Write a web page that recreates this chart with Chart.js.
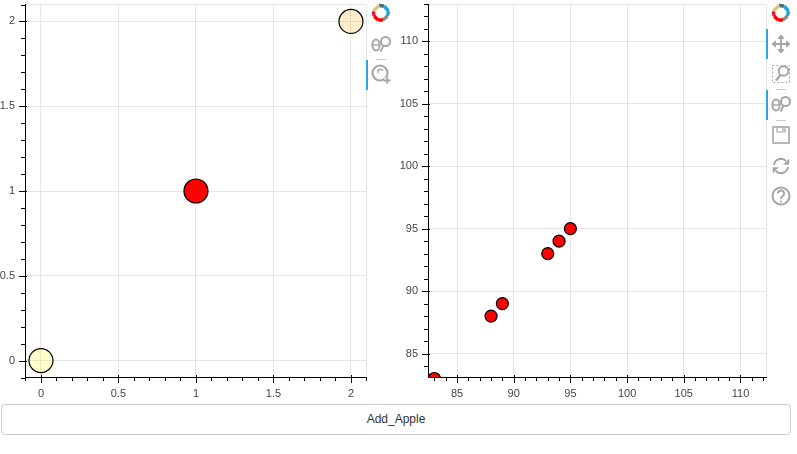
<!DOCTYPE html>
<html>
<head>
<meta charset="utf-8">
<script src="https://cdn.jsdelivr.net/npm/chart.js@4"></script>
<style>
  html, body { margin: 0; padding: 0; background: #fff; }
  body { width: 797px; height: 454px; position: relative; overflow: hidden; font-family: "Liberation Sans", Arial, sans-serif; }
  canvas { position: absolute; top: 0; }
  #leftChart { left: 0; }
  #rightChart { left: 400px; }
  .tools { position: absolute; top: 0; left: 0; }
  button {
    position: absolute; left: 1px; top: 404px; width: 790px; height: 31px;
    background: #fff; border: 1px solid #ccc; border-radius: 4px; color: #333;
    font: 12px "Liberation Sans", Arial, sans-serif; padding: 0 0 2px;
  }
</style>
</head>
<body>
<canvas id="leftChart" width="372" height="400"></canvas>
<canvas id="rightChart" width="372" height="400"></canvas>

<svg class="tools" width="797" height="404" fill="none" stroke="#a6a6a6">
  <defs>
    <g id="logo" stroke-width="3.4">
      <path d="M-2 -7.5L3 -7" stroke="#4a6a72"/>
      <path d="M3 -7L7.5 -2" stroke="#2aa3d6"/>
      <path d="M7.5 -2L6.5 3" stroke="#2aa3d6"/>
      <path d="M6.5 3L2 7" stroke="#8a8a8a"/>
      <path d="M2 7L-3 7" stroke="#f00"/>
      <path d="M-3 7L-7 3" stroke="#f00"/>
      <path d="M-7 3L-7.5 -2" stroke="#e02020"/>
      <path d="M-7.5 -2L-2 -7.5" stroke="#e3c07a"/>
    </g>
    <g id="hover" stroke-width="2">
      <ellipse cx="-5" cy="1" rx="3.6" ry="5.5"/>
      <path d="M-8 1H-2" stroke-width="1.5"/>
      <circle cx="4.5" cy="-2.5" r="4.5"/>
      <path d="M2.5 1.5L-0.5 7.5"/>
    </g>
    <g id="cross" stroke-width="2.2">
      <circle cx="-1" cy="-1" r="7.5"/>
      <path d="M-3 -1A2.5 2.5 0 0 1 2 -3" stroke-width="1.4"/>
      <path d="M3 6.5H9.5M6.2 3.2V9.8" stroke-width="4" stroke="#fff"/>
      <path d="M3 6.5H9.5M6.2 3.2V9.8" stroke-width="2"/>
    </g>
    <g id="pan" stroke-width="2">
      <path d="M-7 0H7M0 -7V7"/>
      <path d="M0 -9L-3 -5.5H3ZM0 9L-3 5.5H3ZM-9 0L-5.5 -3V3ZM9 0L5.5 -3V3Z" fill="#a6a6a6" stroke-width="1"/>
    </g>
    <g id="boxzoom">
      <rect x="-8.5" y="-8.5" width="17" height="17" stroke-dasharray="2 2" stroke-width="1"/>
      <circle cx="2.5" cy="-3" r="4.8" stroke-width="2"/>
      <path d="M-0.5 1L-5 6.5" stroke-width="2.4"/>
    </g>
    <g id="save" stroke-width="1.6">
      <rect x="-8" y="-8" width="16" height="16"/>
      <path d="M-4 -8V-3H4V-8" stroke-width="1.2"/>
      <path d="M2 -7V-4" stroke-width="1.2"/>
    </g>
    <g id="reset" stroke-width="2">
      <path d="M-7 -1A7 7 0 0 1 5 -5"/>
      <path d="M7 1A7 7 0 0 1 -5 5"/>
      <path d="M8 -7V-1.5H2.5Z" fill="#a6a6a6" stroke-width="0.5"/>
      <path d="M-8 7V1.5H-2.5Z" fill="#a6a6a6" stroke-width="0.5"/>
    </g>
    <g id="help">
      <circle r="8.5" stroke-width="2"/>
      <path d="M-3 -2.5A3 3 0 1 1 1.5 0C0.5 0.7 0 1.2 0 3" stroke-width="2"/>
      <circle cy="5.5" r="1.1" fill="#a6a6a6" stroke="none"/>
    </g>
  </defs>
  <!-- left toolbar -->
  <use href="#logo" x="381" y="13"/>
  <use href="#hover" x="381" y="44"/>
  <path d="M376 59.5H386" stroke="#ccc"/>
  <use href="#cross" x="381" y="74"/>
  <rect x="366" y="60" width="2" height="30" fill="#26aae1" stroke="none"/>
  <!-- right toolbar -->
  <use href="#logo" x="781" y="13"/>
  <use href="#pan" x="781" y="44"/>
  <use href="#boxzoom" x="781" y="74"/>
  <path d="M776 89.5H786" stroke="#ccc"/>
  <use href="#hover" x="781" y="104"/>
  <path d="M776 120.5H786" stroke="#ccc"/>
  <use href="#save" x="781" y="135"/>
  <use href="#reset" x="781" y="166"/>
  <use href="#help" x="781" y="196"/>
  <rect x="766" y="29" width="2" height="30" fill="#26aae1" stroke="none"/>
  <rect x="766" y="90" width="2" height="30" fill="#26aae1" stroke="none"/>
</svg>

<button>Add_Apple</button>

<script>
const leftX = [0, 1, 2];
const leftY = [0, 1, 2];
const rightX = [83, 88, 89, 93, 94, 95];
const rightY = [83, 88, 89, 93, 94, 95];

const leftMajor = [0, 0.5, 1, 1.5, 2];
const leftMinor = [-0.1, 0.1, 0.2, 0.3, 0.4, 0.6, 0.7, 0.8, 0.9, 1.1, 1.2, 1.3, 1.4, 1.6, 1.7, 1.8, 1.9, 2.1];
const rightMajor = [85, 90, 95, 100, 105, 110];
const rightMinorX = [83, 84, 86, 87, 88, 89, 91, 92, 93, 94, 96, 97, 98, 99, 101, 102, 103, 104, 106, 107, 108, 109, 111, 112];
const rightMinorY = [84, 86, 87, 88, 89, 91, 92, 93, 94, 96, 97, 98, 99, 101, 102, 103, 104, 106, 107, 108, 109, 111, 112, 113];

const leftColors = ['rgba(255,255,0,0.2)', '#ff0000', 'rgba(255,165,0,0.2)'];
const GRID = '#e5e5e5';
const LABEL = '#444';

// bokeh style ticks: major go both sides of the axis, minor only outside
const axisPlugin = {
  id: 'axisPlugin',
  afterDatasetsDraw(chart, args, opts) {
    const { ctx, chartArea: a, scales } = chart;
    const px = v => Math.round(v) + 0.5;
    ctx.save();
    ctx.lineWidth = 1;
    ctx.strokeStyle = GRID;
    ctx.beginPath();
    ctx.moveTo(a.left, px(a.top));
    ctx.lineTo(px(a.right), px(a.top));
    ctx.lineTo(px(a.right), a.bottom);
    ctx.stroke();

    ctx.strokeStyle = '#000';
    ctx.beginPath();
    ctx.moveTo(px(a.left), a.top);
    ctx.lineTo(px(a.left), px(a.bottom));
    ctx.lineTo(a.right + 1, px(a.bottom));
    opts.xMajor.forEach(v => {
      const x = px(scales.x.getPixelForValue(v));
      ctx.moveTo(x, a.bottom - 2);
      ctx.lineTo(x, a.bottom + 6);
    });
    opts.xMinor.forEach(v => {
      const x = px(scales.x.getPixelForValue(v));
      ctx.moveTo(x, a.bottom);
      ctx.lineTo(x, a.bottom + 4);
    });
    opts.yMajor.forEach(v => {
      const y = px(scales.y.getPixelForValue(v));
      ctx.moveTo(a.left + 2, y);
      ctx.lineTo(a.left - 6, y);
    });
    opts.yMinor.forEach(v => {
      const y = px(scales.y.getPixelForValue(v));
      ctx.moveTo(a.left, y);
      ctx.lineTo(a.left - 4, y);
    });
    ctx.stroke();
    ctx.restore();
  }
};

function axisOptions(min, max, major, size, padding) {
  return {
    type: 'linear',
    min: min,
    max: max,
    afterBuildTicks: scale => { scale.ticks = major.map(v => ({ value: v })); },
    afterFit: scale => {
      if (scale.isHorizontal()) scale.height = size;
      else scale.width = size;
      // labels may overhang, the plot area stays put
      scale.paddingLeft = scale.paddingRight = scale.paddingTop = scale.paddingBottom = 0;
    },
    grid: { color: GRID, lineWidth: 1, tickLength: 0, drawTicks: false },
    border: { display: false },
    ticks: {
      color: LABEL,
      padding: padding,
      autoSkip: false,
      maxRotation: 0,
      font: { family: '"Liberation Sans", Arial, sans-serif', size: 11 },
      callback: v => String(v)
    }
  };
}

function makeChart(id, xs, ys, point, x, y, ticks, axisLeft) {
  return new Chart(document.getElementById(id).getContext('2d'), {
    type: 'scatter',
    data: {
      datasets: [{
        data: xs.map((v, i) => ({ x: v, y: ys[i] })),
        backgroundColor: point.color,
        borderColor: '#000',
        borderWidth: 1.2,
        pointRadius: point.radius,
        pointHoverRadius: point.radius
      }]
    },
    options: {
      responsive: false,
      animation: false,
      devicePixelRatio: 1,
      layout: { autoPadding: false, padding: { top: 4, right: 6, left: 0, bottom: 0 } },
      plugins: { legend: { display: false }, tooltip: { enabled: false }, axisPlugin: ticks },
      scales: {
        x: axisOptions(x[0], x[1], ticks.xMajor, 23, 10),
        y: axisOptions(y[0], y[1], ticks.yMajor, axisLeft, 10)
      }
    },
    plugins: [axisPlugin]
  });
}

makeChart('leftChart', leftX, leftY,
  { color: leftColors, radius: 12 },
  [-0.103, 2.097], [-0.097, 2.103],
  { xMajor: leftMajor, xMinor: leftMinor, yMajor: leftMajor, yMinor: leftMinor }, 25);

makeChart('rightChart', rightX, rightY,
  { color: '#ff0000', radius: 6 },
  [82.44, 112.25], [83.12, 113],
  { xMajor: rightMajor, xMinor: rightMinorX, yMajor: rightMajor, yMinor: rightMinorY }, 28);
</script>
</body>
</html>
